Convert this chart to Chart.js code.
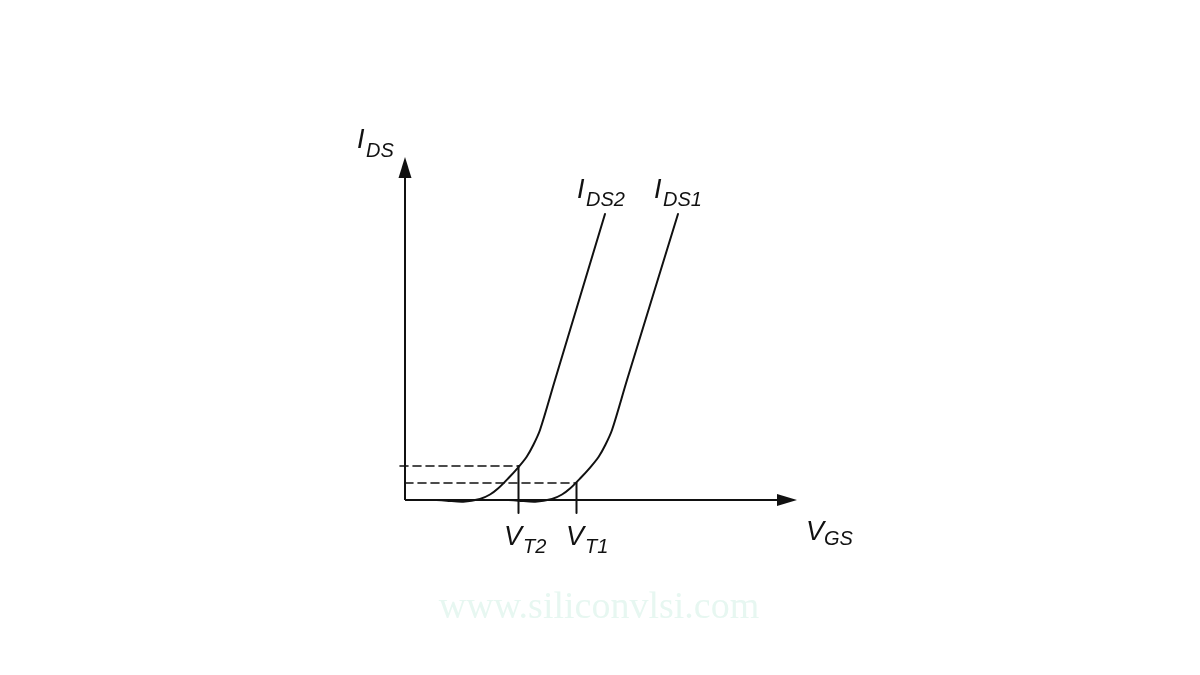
<!DOCTYPE html>
<html>
<head>
<meta charset="utf-8">
<script src="https://cdn.jsdelivr.net/npm/chart.js@4/dist/chart.umd.min.js"></script>
<style>
html,body{margin:0;padding:0;background:#fff;}
#wrap{width:1200px;height:675px;position:relative;}
</style>
</head>
<body>
<div id="wrap"><canvas id="c" width="1200" height="675"></canvas></div>
<script>
// Curve IDS2 (lower threshold)
const ids2X = [31.7, 41.7, 58.3, 75, 85, 93.3, 103.3, 113.3, 121.7, 128.3, 135, 150, 200];
const ids2Y = [0, -0.7, -1.7, 1, 5.5, 11.7, 21.7, 32.7, 43.3, 55, 70, 120, 286];
// Curve IDS1 (higher threshold)
const ids1X = [103.7, 113.7, 130.3, 147, 157, 165.3, 175.3, 185.3, 193.7, 200.3, 207, 222, 273];
const ids1Y = [0, -0.7, -1.7, 1, 5.5, 11.7, 21.7, 32.7, 43.3, 55, 70, 120, 286];
// Threshold markers
const vt2 = {x: 113.5, y: 34};
const vt1 = {x: 171.5, y: 17};
const tickBottom = -13;
const dashStartX2 = -5, dashStartX1 = 0;
// Axis extents
const axisXEnd = 392, axisYEnd = 343;
const labels = {
  yAxis: ['I', 'DS'], xAxis: ['V', 'GS'],
  curve2: ['I', 'DS2'], curve1: ['I', 'DS1'],
  vt2: ['V', 'T2'], vt1: ['V', 'T1']
};
const watermark = 'www.siliconvlsi.com';

function pts(xs, ys){ return xs.map((x,i)=>({x:x, y:ys[i]})); }

const ink = '#111';
const overlay = {
  id: 'overlay',
  afterDraw(chart){
    const ctx = chart.ctx, xs = chart.scales.x, ys = chart.scales.y;
    const X = v => xs.getPixelForValue(v), Y = v => ys.getPixelForValue(v);
    ctx.save();
    // watermark
    ctx.font = '38px "Liberation Serif"';
    ctx.fillStyle = '#e7f7f1';
    ctx.textAlign = 'center';
    ctx.textBaseline = 'alphabetic';
    ctx.fillText(watermark, 599, 618);
    // axes
    ctx.strokeStyle = ink; ctx.fillStyle = ink; ctx.lineWidth = 2;
    ctx.beginPath();
    ctx.moveTo(X(0), Y(0)); ctx.lineTo(X(axisXEnd - 12), Y(0));
    ctx.moveTo(X(0), Y(0)); ctx.lineTo(X(0), Y(axisYEnd - 12));
    ctx.stroke();
    // arrowheads
    ctx.beginPath();
    ctx.moveTo(X(axisXEnd), Y(0));
    ctx.lineTo(X(axisXEnd - 20), Y(0) - 6);
    ctx.lineTo(X(axisXEnd - 20), Y(0) + 6);
    ctx.closePath(); ctx.fill();
    ctx.beginPath();
    ctx.moveTo(X(0), Y(axisYEnd));
    ctx.lineTo(X(0) - 6.5, Y(axisYEnd - 21));
    ctx.lineTo(X(0) + 6.5, Y(axisYEnd - 21));
    ctx.closePath(); ctx.fill();
    // labels
    ctx.textAlign = 'left';
    function lab(parts, x, y, dx, dy){
      ctx.font = 'italic 27px "Liberation Sans"';
      ctx.fillText(parts[0], x, y);
      ctx.font = 'italic 20px "Liberation Sans"';
      ctx.fillText(parts[1], x + dx, y + dy);
    }
    lab(labels.yAxis, 357, 148, 9, 9);
    lab(labels.curve2, 577, 198, 9, 8);
    lab(labels.curve1, 654, 198, 9, 8);
    lab(labels.xAxis, 806, 540, 18, 5);
    lab(labels.vt2, 504, 545, 19, 8);
    lab(labels.vt1, 566, 545, 19, 8);
    ctx.restore();
  }
};

const solid = {borderColor: ink, borderWidth: 2, pointRadius: 0, fill: false};
const dashed = {borderColor: ink, borderWidth: 1.6, pointRadius: 0, fill: false, borderDash: [8,5]};

new Chart(document.getElementById('c'), {
  type: 'line',
  data: {
    datasets: [
      Object.assign({data: pts(ids2X, ids2Y), tension: 0.3}, solid),
      Object.assign({data: pts(ids1X, ids1Y), tension: 0.3}, solid),
      Object.assign({data: [{x: dashStartX2, y: vt2.y}, {x: vt2.x, y: vt2.y}]}, dashed),
      Object.assign({data: [{x: dashStartX1, y: vt1.y}, {x: vt1.x, y: vt1.y}]}, dashed),
      Object.assign({data: [{x: vt2.x, y: vt2.y}, {x: vt2.x, y: tickBottom}]}, solid),
      Object.assign({data: [{x: vt1.x, y: vt1.y}, {x: vt1.x, y: tickBottom}]}, solid)
    ]
  },
  options: {
    responsive: false,
    animation: false,
    layout: {padding: {left: 405, right: 395, top: 150, bottom: 155}},
    scales: {
      x: {type: 'linear', min: 0, max: 400, display: false},
      y: {type: 'linear', min: -20, max: 350, display: false}
    },
    plugins: {legend: {display: false}, tooltip: {enabled: false}},
    elements: {line: {borderCapStyle: 'round', capBezierPoints: false}},
    datasets: {line: {clip: false}}
  },
  plugins: [overlay]
});
</script>
</body>
</html>
